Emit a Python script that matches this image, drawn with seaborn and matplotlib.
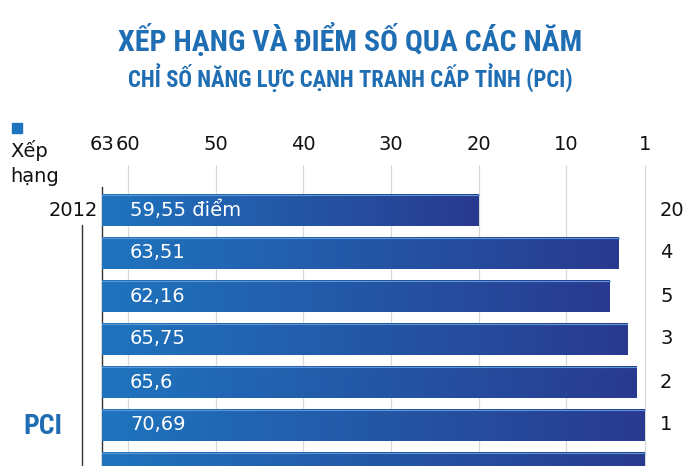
import numpy as np
import pandas as pd
import seaborn as sns
import matplotlib.pyplot as plt
from matplotlib import font_manager
from matplotlib.lines import Line2D
from matplotlib.patches import Rectangle

# data
years = [2012, 2013, 2014, 2015, 2016, 2017, 2018]
ranks = [20, 4, 5, 3, 2, 1, 1]
scores = ["59,55 điểm", "63,51", "62,16", "65,75", "65,6", "70,69", "70,36"]
rank_ticks = [63, 60, 50, 40, 30, 20, 10, 1]
n_provinces = 63
n_visible = 6  # the last row is cut off by the picture edge

title = "XẾP HẠNG VÀ ĐIỂM SỐ QUA CÁC NĂM"
subtitle = "CHỈ SỐ NĂNG LỰC CẠNH TRANH CẤP TỈNH (PCI)"


def pick_condensed():
    # a condensed bold face for the headings, if one with a static bold file exists
    bold = {f.name for f in font_manager.fontManager.ttflist
            if f.weight >= 700 and "[" not in f.fname}
    for name in ["Roboto Condensed", "Open Sans Condensed", "Liberation Sans Narrow",
                 "Fira Sans Condensed", "PT Sans Narrow", "Barlow Condensed",
                 "Noto Sans Condensed"]:
        if name in bold:
            return name, False
    return "Roboto", True


head_font, fallback = pick_condensed()

sns.set_theme(style="white")
plt.rcParams["font.family"] = ["DejaVu Sans"]

blue = "#1f6db3"
c_left = np.array([0x1f, 0x74, 0xbe]) / 255
c_right = np.array([0x29, 0x3a, 0x8f]) / 255

df = pd.DataFrame({"year": years, "rank": ranks, "score": scores})
# bar length measured from the last place (63) towards rank 1
df["length"] = n_provinces - df["rank"]

fig = plt.figure(figsize=(7, 4.66), dpi=100)
W, H = 700, 466
ax = fig.add_axes([102 / W, 0, 598 / W, 301 / H])

sns.barplot(data=df, x="length", y=df["year"].astype(str), orient="h",
            color=c_left, width=0.73, ax=ax, zorder=3)

px_per = (645 - 102) / (n_provinces - 1)
ax.set_xlim(0, 598 / px_per)
ax.set_ylim((466 - 210) / 43, (165 - 210) / 43)

# gradient fill on each bar
grad = np.linspace(0, 1, 256)
cmap_img = (c_left[None, :] * (1 - grad[:, None]) + c_right[None, :] * grad[:, None])[None, :, :]
for p in ax.patches:
    x0, y0 = p.get_x(), p.get_y()
    w, h = p.get_width(), p.get_height()
    p.set_facecolor("none")
    p.set_edgecolor("none")
    ax.imshow(cmap_img, extent=[x0, x0 + w, y0 + h, y0], aspect="auto", zorder=3,
              interpolation="bilinear")
    ax.plot([x0, x0 + w], [y0 + 0.02, y0 + 0.02], color="#5b97d2", lw=0.8, zorder=4)

# vertical grid lines
for r in rank_ticks[1:]:
    ax.axvline(n_provinces - r, color="#d9d9d9", lw=0.9, zorder=1)

ax.xaxis.tick_top()
ax.set_xticks([n_provinces - r for r in rank_ticks])
ax.set_xticklabels([str(r) for r in rank_ticks], fontsize=14, color="#111111")
ax.tick_params(axis="x", length=0, pad=8)
ax.set_yticks([])
ax.set_xlabel("")
ax.set_ylabel("")
for s in ["top", "right", "bottom"]:
    ax.spines[s].set_visible(False)
ax.spines["left"].set_color("#333333")
ax.spines["left"].set_linewidth(1)
ax.spines["left"].set_bounds(ax.get_ylim()[0], (187 - 210) / 43)

for i, row in df.head(n_visible).iterrows():
    ax.text((130 - 102) / px_per, i, row["score"], color="white", fontsize=14,
            va="center", ha="left", zorder=5)
    ax.text((660 - 102) / px_per, i, str(row["rank"]), color="#111111", fontsize=14,
            va="center", ha="left", zorder=5)
ax.text(-0.5, 0, str(years[0]), color="#111111", fontsize=14, va="center", ha="right",
        clip_on=False)

t_size, s_size = (19, 13.5) if fallback else (21.5, 16.3)
fig.text(0.5, 1 - 40 / H, title, ha="center", va="center", fontsize=t_size,
         fontweight="bold", color=blue, family=[head_font, "DejaVu Sans"])
fig.text(0.5, 1 - 78 / H, subtitle, ha="center", va="center", fontsize=s_size,
         fontweight="bold", color=blue, family=[head_font, "DejaVu Sans"])

fig.text(10 / W, 1 - 150 / H, "Xếp", fontsize=14, va="center", ha="left", color="#111111")
fig.text(10 / W, 1 - 176 / H, "hạng", fontsize=14, va="center", ha="left", color="#111111")
fig.add_artist(Rectangle((12 / W, 1 - 133 / H), 10 / W, 10 / H,
                         transform=fig.transFigure, color=c_left))
fig.text(43 / W, 1 - 426 / H, "PCI", fontsize=20, fontweight="bold", color=blue,
         ha="center", va="center", family=[head_font, "DejaVu Sans"])
fig.add_artist(Line2D([82 / W, 82 / W], [0, 1 - 225 / H], transform=fig.transFigure,
                      color="#333333", lw=1))

fig.savefig("out.png", dpi=100)
